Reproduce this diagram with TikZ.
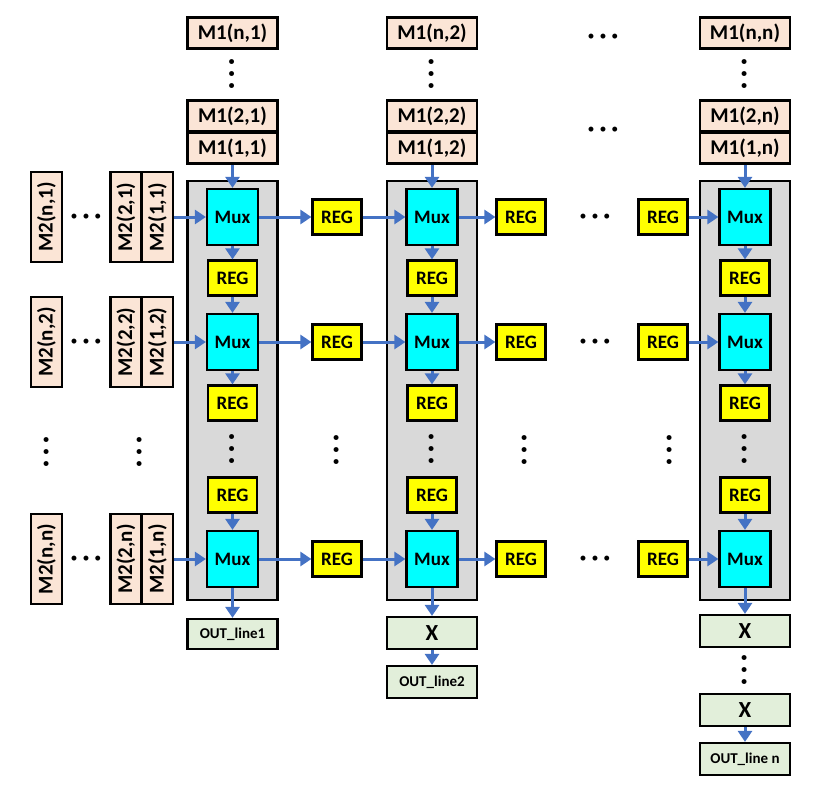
\documentclass[tikz,border=0pt]{standalone}
\usepackage{fontspec}
\setmainfont{Carlito}
\usetikzlibrary{arrows.meta}
\definecolor{peach}{HTML}{FBE5D6}
\definecolor{arr}{HTML}{4472C4}
\definecolor{outg}{HTML}{E2EFDA}
\definecolor{grayb}{HTML}{D9D9D9}
\definecolor{cy}{HTML}{00FFFF}
\definecolor{yl}{HTML}{FFFF00}
\newcommand{\tdots}{\textbullet\hspace{5pt}\textbullet\hspace{5pt}\textbullet}
\begin{document}
\begin{tikzpicture}[x=1pt,y=-1pt,
 box/.style={draw=black,line width=2.2pt,inner sep=0pt,font=\bfseries},
 m1/.style={box,fill=peach,minimum width=90,minimum height=31,font=\bfseries\fontsize{21}{21}\selectfont},
 m2/.style={box,fill=peach,minimum width=90,minimum height=31,rotate=90,font=\bfseries\fontsize{21}{21}\selectfont},
 mux/.style={box,fill=cy,minimum width=51,minimum height=56,font=\bfseries\fontsize{19}{19}\selectfont},
 reg/.style={box,fill=yl,minimum width=49,minimum height=35,font=\bfseries\fontsize{19}{19}\selectfont},
 xb/.style={box,fill=outg,minimum width=90,minimum height=32,font=\bfseries\fontsize{23}{23}\selectfont},
 ob/.style={box,fill=outg,minimum width=90,minimum height=30,font=\bfseries\fontsize{15}{15}\selectfont},
 col/.style={draw=black,line width=2.2pt,fill=grayb,minimum width=90,minimum height=419,inner sep=0pt},
 a/.style={draw=arr,line width=3pt,-{Triangle[length=11pt,width=14pt]}},
 vd/.style={font=\fontsize{14}{14}\selectfont,rotate=90},
 hd/.style={font=\fontsize{14}{14}\selectfont}]
\useasboundingbox (0,0) rectangle (822,787);
% columns
\foreach \c/\x in {1/232.5,2/432,3/745}{
 \node[col] (g\c) at (\x,390.5) {};
 \node[mux] (mx\c a) at (\x,217) {Mux};
 \node[mux] (mx\c b) at (\x,342) {Mux};
 \node[mux] (mx\c c) at (\x,559) {Mux};
 \node[reg] (r\c a) at (\x,278) {REG};
 \node[reg] (r\c b) at (\x,403) {REG};
 \node[reg] (r\c c) at (\x,495) {REG};
 \node[vd] (vd\c) at (\x,449) {\tdots};
 \draw[a] (mx\c a) -- (r\c a);
 \draw[a] (r\c a) -- (mx\c b);
 \draw[a] (mx\c b) -- (r\c b);
 \draw[a] (r\c c) -- (mx\c c);
}
% M1 stacks
\foreach \c/\x/\k in {1/232.5/1,2/432/2,3/745/n}{
 \node[m1] (mn\c) at (\x,33) {M1(n,\k)};
 \node[vd] (md\c) at (\x,74) {\tdots};
 \node[m1] (m2\c) at (\x,116) {M1(2,\k)};
 \node[m1] (m1\c) at (\x,148) {M1(1,\k)};
 \draw[a] (m1\c) -- (mx\c a);
}
\node[hd] (t1) at (603,37) {\tdots};
\node[hd] (t2) at (603,130) {\tdots};
% M2 stacks
\foreach \r/\y/\k in {a/217/1,b/342/2,c/559/n}{
 \node[m2] (pn\r) at (46.5,\y) {M2(n,\k)};
 \node[hd] (pd\r) at (86,\y) {\tdots};
 \node[m2] (p2\r) at (126,\y) {M2(2,\k)};
 \node[m2] (p1\r) at (157.5,\y) {M2(1,\k)};
 \draw[a] (p1\r) -- (mx1\r);
 \node[reg] (h1\r) at (337,\y) {REG};
 \node[reg] (h2\r) at (521,\y) {REG};
 \node[hd] (hd\r) at (595,\y) {\tdots};
 \node[reg] (h3\r) at (663,\y) {REG};
 \draw[a] (mx1\r) -- (h1\r);
 \draw[a] (h1\r) -- (mx2\r);
 \draw[a] (mx2\r) -- (h2\r);
 \draw[a] (h3\r) -- (mx3\r);
}
\node[vd] (e1) at (47,452) {\tdots};
\node[vd] (e2) at (140,452) {\tdots};
\node[vd] (e3) at (337,450) {\tdots};
\node[vd] (e4) at (525,450) {\tdots};
\node[vd] (e5) at (670,450) {\tdots};
% outputs
\node[ob] (o1) at (232.5,634) {OUT\_line1};
\draw[a] (mx1c) -- (o1);
\node[xb] (x2) at (432,633) {X};
\node[ob,minimum height=32] (o2) at (432,682) {OUT\_line2};
\draw[a] (mx2c) -- (x2);
\draw[a] (x2) -- (o2);
\node[xb] (x3) at (745,631) {X};
\node[vd] (xd) at (745,670) {\tdots};
\node[xb] (x4) at (745,710) {X};
\node[ob,minimum height=32] (o3) at (745,759) {OUT\_line n};
\draw[a] (mx3c) -- (x3);
\draw[a] (x4) -- (o3);
\end{tikzpicture}
\end{document}
